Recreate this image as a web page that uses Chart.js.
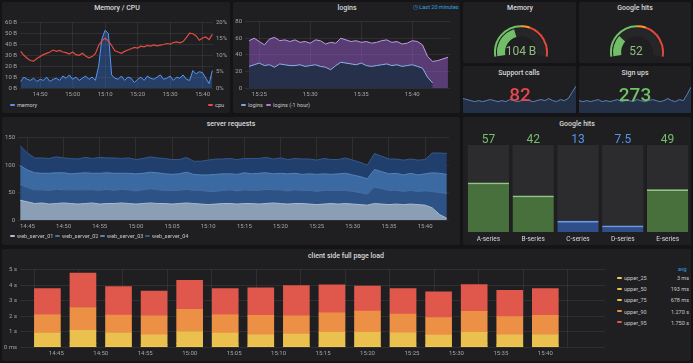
<!DOCTYPE html>
<html><head><meta charset="utf-8">
<script src="https://cdn.jsdelivr.net/npm/chart.js@4.4.1/dist/chart.umd.min.js"></script>
<style>
*{box-sizing:border-box}
html,body{margin:0;padding:0;width:693px;height:363px;overflow:hidden;background:#141416;font-family:Roboto,"Noto Sans",Arial,sans-serif;}
.p{position:absolute;background:#1f1f21;border-radius:2px}
.c{position:absolute}
.t{position:absolute;color:#d8d9da;font-size:7px;font-weight:500;white-space:nowrap;transform:translateX(-50%);line-height:1;z-index:5}
.lg{position:absolute;color:#c7c8ca;font-size:5.5px;white-space:nowrap;line-height:1;z-index:5}
.mk{display:inline-block;width:5px;height:2px;vertical-align:middle;margin-right:2px;border-radius:1px;position:relative;top:-1px}
.big{position:absolute;white-space:nowrap;transform:translateX(-50%);line-height:1;z-index:5}
.row{position:absolute;left:617px;width:72px;height:7px;color:#c7c8ca;font-size:5.5px;line-height:7px;white-space:nowrap;z-index:5}
.row .v{position:absolute;right:0;top:0}
</style></head><body>
<!-- panels -->
<div class="p" style="left:2px;top:2px;width:228px;height:111px"></div>
<div class="p" style="left:233px;top:2px;width:227px;height:111px"></div>
<div class="p" style="left:463px;top:2px;width:113px;height:61px"></div>
<div class="p" style="left:579px;top:2px;width:112px;height:61px"></div>
<div class="p" style="left:463px;top:66px;width:113px;height:47px"></div>
<div class="p" style="left:579px;top:66px;width:112px;height:47px"></div>
<div class="p" style="left:2px;top:117px;width:458px;height:128px"></div>
<div class="p" style="left:463px;top:117px;width:228px;height:128px"></div>
<div class="p" style="left:2px;top:249px;width:689px;height:112px"></div>

<!-- chart containers -->
<div class="c" style="left:2px;top:16px;width:228px;height:86px"><canvas id="c1"></canvas></div>
<div class="c" style="left:233px;top:15px;width:227px;height:87px"><canvas id="c2"></canvas></div>
<div class="c" style="left:494px;top:25px;width:54px;height:32px"><canvas id="g1"></canvas></div>
<div class="c" style="left:610px;top:25px;width:54px;height:32px"><canvas id="g2"></canvas></div>
<div class="c" style="left:463px;top:82px;width:113px;height:31px"><canvas id="s1"></canvas></div>
<div class="c" style="left:579px;top:82px;width:112px;height:31px"><canvas id="s2"></canvas></div>
<div class="c" style="left:2px;top:131px;width:458px;height:103px"><canvas id="c3"></canvas></div>
<div class="c" style="left:463px;top:130px;width:228px;height:114px"><canvas id="c4"></canvas></div>
<div class="c" style="left:2px;top:263px;width:606px;height:98px"><canvas id="c5"></canvas></div>

<!-- titles -->
<div class="t" style="left:117px;top:5px">Memory / CPU</div>
<div class="t" style="left:347px;top:5px">logins</div>
<div class="lg" style="left:413px;top:5px;color:#33a2e5">◷ Last 20 minutes</div>
<div class="t" style="left:520px;top:5px">Memory</div>
<div class="t" style="left:635px;top:5px">Google hits</div>
<div class="t" style="left:519px;top:70px">Support calls</div>
<div class="t" style="left:635px;top:70px">Sign ups</div>
<div class="t" style="left:231px;top:121px">server requests</div>
<div class="t" style="left:577px;top:121px">Google hits</div>
<div class="t" style="left:346px;top:253px">client side full page load</div>

<!-- big values -->
<div class="big" id="gv1" style="left:521px;top:45px;font-size:12px;color:#8fbd80"></div>
<div class="big" id="gv2" style="left:636px;top:45px;font-size:12px;color:#8fbd80"></div>
<div class="big" id="sv1" style="left:520px;top:85px;font-size:19px;font-weight:500;color:#e5474f"></div>
<div class="big" id="sv2" style="left:635px;top:85px;font-size:19px;font-weight:500;color:#73bf69"></div>

<!-- legends -->
<div class="lg" style="left:10px;top:103px"><span class="mk" style="background:#5794F2"></span>memory</div>
<div class="lg" style="left:208px;top:103px"><span class="mk" style="background:#E24D42"></span>cpu</div>
<div class="lg" style="left:241px;top:103px"><span class="mk" style="background:#7ea6e0"></span>logins</div>
<div class="lg" style="left:266px;top:103px"><span class="mk" style="background:#b877d9"></span>logins (-1 hour)</div>
<div id="srvLegend"></div>
<div class="lg" style="left:678px;top:267px;color:#33a2e5">avg</div>
<div id="loadLegend"></div>

<script>
// ---------- DATA ----------
// Memory / CPU (one point per minute from 14:44)
const memStart = '14:44';
const memStepMin = 1;
const memoryB = [6,10,8,7,9,6,8,7,10,6,
  8,9,7,11,9,12,8,10,7,9,
  11,8,10,7,20,45,53,50,12,9,
  8,11,7,10,9,5,8,10,7,11,
  9,8,10,12,8,9,11,7,10,9,
  12,8,7,16,13,15,14,9,4,16];
const cpuPct = [11.2,10.0,9.1,8.4,8.2,9.0,9.6,10.2,10.6,11.0,
  11.6,11.2,11.5,11.0,10.8,10.4,11.0,10.2,10.0,10.6,
  9.8,9.2,9.6,10.5,13.0,14.5,15.2,14.4,13.0,11.4,
  11.0,10.6,11.2,11.6,12.0,12.4,12.2,12.8,12.6,13.0,
  12.8,13.2,12.9,13.1,13.3,13.6,13.4,13.9,14.1,13.8,
  14.2,15.4,16.8,16.6,15.9,14.6,15.3,15.6,14.8,16.4];
const memXTicks = ['14:50','15:00','15:10','15:20','15:30','15:40'];
const memYTicks = ['0 B','10 B','20 B','30 B','40 B','50 B','60 B'];
const cpuYTicks = ['0%','5%','10%','15%','20%'];

// logins (every 30 s from 15:24)
const loginStart = '15:24';
const loginStepMin = 0.5;
const logins = [26,28,30,27,28,25,29,28,27,27,
  28,26,27,28,26,25,22,27,31,30,
  29,28,30,27,26,27,28,29,27,28,
  26,27,28,26,24,13,6,null,null,null];
const loginsHourAgo = [57,60,56,52,59,61,57,58,56,58,
  55,56,54,58,57,53,55,54,60,58,
  56,57,55,56,54,55,57,58,55,56,
  53,54,57,56,52,38,32,33,35,37];
const loginXTicks = ['15:25','15:30','15:35','15:40'];
const loginYTicks = ['0','20','40','60','80'];

// gauges
const gaugeNames = ['Memory','Google hits'];
const gaugeValues = [104, 52];
const gaugeText = ['104 B','52'];
const gaugeMax = [250, 200];
const gaugeThresholds = [50, 10, 40];

// stats with sparklines
const supportCalls = [14,13,12,11,12,11,12,13,12,11,12,11,13,12,11,12,13,12,11,12,13,12,14,12,11,13,12,14,20,26];
const signUps = [12,11,12,11,12,13,11,12,11,12,13,11,12,12,11,13,12,11,12,13,12,11,12,14,12,11,13,12,18,25];
const statText = ['82','273'];

// server requests (one point per minute from 14:44)
const srvStart = '14:44';
const srvStepMin = 1;
const srvNames = ['web_server_01','web_server_02','web_server_03','web_server_04'];
const ws01 = [36,33,30,31,29,30,31,30,29,30,31,29,30,30,31,30,29,30,31,30,
  30,29,30,31,30,29,28,29,30,30,29,30,30,29,30,31,30,29,30,30,
  29,28,29,30,29,30,29,28,27,30,29,28,29,28,29,28,27,22,10,3];
const ws02 = [29,26,25,24,25,26,24,25,26,25,24,25,26,24,25,25,24,25,26,25,
  24,25,24,25,24,25,24,23,24,25,24,25,24,25,26,24,25,24,25,24,
  25,24,25,24,25,24,23,22,20,30,28,26,25,24,25,24,26,30,40,45];
const ws03 = [34,32,31,30,31,30,31,29,30,31,30,31,30,31,29,30,31,30,30,31,
  30,29,30,31,29,28,30,31,30,29,30,31,30,31,30,29,30,31,30,29,
  30,31,30,29,30,31,30,29,28,32,31,30,31,30,31,30,31,34,35,35];
const ws04 = [36,31,27,28,27,29,27,28,26,28,27,29,27,28,27,28,26,27,28,27,
  28,27,26,27,24,25,27,28,27,28,27,26,28,27,28,27,28,26,27,28,
  27,26,28,27,26,28,27,26,25,29,28,27,26,27,26,27,26,36,37,38];
const srvXTicks = ['14:45','14:50','14:55','15:00','15:05','15:10','15:15','15:20','15:25','15:30','15:35','15:40'];
const srvYTicks = ['0','50','100','150'];

// Google hits bar gauge
const hitLabels = ['A-series','B-series','C-series','D-series','E-series'];
const hitValues = [57, 42, 13, 7.5, 49];
const hitValueText = ['57','42','13','7.5','49'];
const hitMax = [100,100,100,100,100];

// client side full page load (ms), bars every 4 minutes
const loadTimes = ['14:44','14:48','14:52','14:56','15:00','15:04','15:08','15:12','15:16','15:20','15:24','15:28','15:32','15:36','15:40'];
const loadNames = ['upper_25','upper_50','upper_75','upper_90','upper_95'];
const upper25 = [3,4,3,3,3,3,2,3,3,4,3,3,3,3,3];
const upper50 = [190,230,195,170,210,195,175,180,200,205,195,165,200,170,175];
const upper75 = [707,836,702,617,787,702,613,647,737,731,722,602,737,617,632];
const upper90 = [1200,1480,1170,1230,1430,1200,1250,1190,1260,1380,1210,1130,1360,1170,1230];
const upper95 = [1680,2230,1830,1600,1870,1670,1790,1940,1820,1620,1640,1660,1740,1700,1730];
const loadAvgText = ['3 ms','193 ms','678 ms','1.270 s','1.750 s'];
const loadXTicks = ['14:45','14:50','14:55','15:00','15:05','15:10','15:15','15:20','15:25','15:30','15:35','15:40'];
const loadYTicks = ['0 ms','1 s','2 s','3 s','4 s','5 s'];

// ---------- HELPERS ----------
const toMin = s => { const [h,m] = s.split(':').map(Number); return h*60+m; };
const fmt = v => { const h = Math.floor(v/60); const m = Math.round(v - h*60); return h + ':' + String(m).padStart(2,'0'); };
const series = (start, step, vals) => vals.map((v,i) => ({x: toMin(start) + i*step, y: v}));
const GRID = 'rgba(255,255,255,0.075)';

Chart.defaults.font.family = 'Roboto, "Noto Sans", sans-serif';
Chart.defaults.font.size = 6;
Chart.defaults.color = '#a3a4a7';
Chart.defaults.animation = false;
Chart.defaults.plugins.legend.display = false;
Chart.defaults.plugins.tooltip.enabled = false;
Chart.defaults.elements.point.radius = 0;
Chart.defaults.elements.line.borderWidth = 1;
Chart.defaults.elements.line.tension = 0;
Chart.defaults.elements.arc.borderWidth = 0;

function timeAxis(min, max, labels, h) {
  return { type:'linear', min, max,
    grid:{color:GRID, drawTicks:false}, border:{display:false},
    ticks:{padding:3, autoSkip:false, maxRotation:0, includeBounds:false, callback:v => fmt(v)},
    afterBuildTicks: s => { s.ticks = labels.map(l => ({value: toMin(l)})); },
    afterFit: s => { s.height = h; } };
}
function valAxis(max, step, labels, w, pos, grid) {
  return { type:'linear', position:pos || 'left', min:0, max,
    grid:{display:grid !== false, color:GRID, drawTicks:false}, border:{display:false},
    ticks:{stepSize:step, padding:3, callback:(v,i) => labels[i]},
    afterFit: s => { s.width = w; } };
}
const base = { responsive:true, maintainAspectRatio:false };

// ---------- Memory / CPU ----------
new Chart(document.getElementById('c1'), {
  type:'line',
  data:{ datasets:[
    {label:'memory', data:series(memStart, memStepMin, memoryB), borderColor:'#5794F2', backgroundColor:'rgba(50,116,217,0.38)', fill:'origin', yAxisID:'y', order:1},
    {label:'cpu', data:series(memStart, memStepMin, cpuPct), borderColor:'#E24D42', borderWidth:1.2, fill:false, yAxisID:'y1', order:0}
  ]},
  options:{ ...base, layout:{padding:{top:6}},
    scales:{ x: timeAxis(883.8, 943.2, memXTicks, 14),
      y: valAxis(60, 10, memYTicks, 18),
      y1: valAxis(20, 5, cpuYTicks, 17, 'right', false) } }
});

// ---------- logins ----------
new Chart(document.getElementById('c2'), {
  type:'line',
  data:{ datasets:[
    {label:'logins', data:series(loginStart, loginStepMin, logins), borderColor:'#8ab2ea', backgroundColor:'#27304b', fill:'origin'},
    {label:'logins (-1 hour)', data:series(loginStart, loginStepMin, loginsHourAgo), borderColor:'#c09be0', backgroundColor:'rgba(150,90,200,0.5)', fill:'origin'}
  ]},
  options:{ ...base, layout:{padding:{top:6, right:10}},
    scales:{ x: timeAxis(923.6, 943.7, loginXTicks, 14),
      y: valAxis(80, 20, loginYTicks, 12) } }
});

// ---------- gauges ----------
['g1','g2'].forEach((id, k) => {
  new Chart(document.getElementById(id), {
    type:'doughnut',
    data:{ datasets:[
      {data:gaugeThresholds, backgroundColor:['#73BF69','#FF9830','#E0473E'], weight:2},
      {data:[1], backgroundColor:'rgba(0,0,0,0)', weight:1},
      {data:[gaugeValues[k], gaugeMax[k]-gaugeValues[k]], backgroundColor:['#73BF69','rgba(255,255,255,0.035)'], weight:8}
    ]},
    options:{ ...base, rotation:-100, circumference:200, cutout:'59%', layout:{padding:0} }
  });
  document.getElementById('gv'+(k+1)).textContent = gaugeText[k];
});

// ---------- sparklines ----------
[['s1', supportCalls], ['s2', signUps]].forEach(([id, vals], k) => {
  new Chart(document.getElementById(id), {
    type:'line',
    data:{ labels: vals.map((_,i)=>i), datasets:[
      {data:vals, borderColor:'#5d82b8', backgroundColor:'rgba(50,100,180,0.25)', fill:'origin', borderWidth:1}
    ]},
    options:{ ...base, layout:{padding:0},
      scales:{ x:{display:false}, y:{display:false, min:0, max:30} } }
  });
  document.getElementById('sv'+(k+1)).textContent = statText[k];
});

// ---------- server requests ----------
const srvVals = [ws01, ws02, ws03, ws04];
const srvFill = ['#8a9fb6','#2d5386','#3b69a1','#213f6d'];
const srvLine = ['#a9bdd2','#4872a8','#5583bb','#34598c'];
new Chart(document.getElementById('c3'), {
  type:'line',
  data:{ datasets: srvVals.map((v,k) => ({
    label:srvNames[k], data:series(srvStart, srvStepMin, v),
    borderColor:srvLine[k], backgroundColor:srvFill[k], fill: k === 0 ? 'origin' : '-1'
  }))},
  options:{ ...base, layout:{padding:{top:6, right:11}},
    scales:{ x: timeAxis(883.7, 943.3, srvXTicks, 14),
      y: {...valAxis(150, 50, srvYTicks, 16), stacked:true} } }
});
const srvLeg = document.getElementById('srvLegend');
srvNames.forEach((n,k) => {
  const d = document.createElement('div');
  d.className = 'lg';
  d.style.left = (10 + k*45) + 'px';
  d.style.top = '234px';
  d.innerHTML = '<span class="mk" style="background:' + srvLine[k] + '"></span>' + n;
  srvLeg.appendChild(d);
});

// ---------- Google hits bar gauge ----------
const hitColor = v => v < 20 ? '#5794F2' : '#73BF69';
const hitFill = v => v < 20 ? '#2f4f8a' : '#47703d';
const hitTop = v => v < 20 ? '#6a9aec' : '#93c884';
new Chart(document.getElementById('c4'), {
  type:'bar',
  data:{ labels:hitLabels, datasets:[
    {data:hitValues, backgroundColor:hitValues.map(hitFill), borderColor:hitValues.map(hitTop),
     borderWidth:{top:2, left:0, right:0, bottom:0}, borderSkipped:false, grouped:false,
     barPercentage:0.92, categoryPercentage:1, order:0},
    {data:hitMax, backgroundColor:'#2c2c2f', borderWidth:0, grouped:false,
     barPercentage:0.92, categoryPercentage:1, order:1}
  ]},
  options:{ ...base, layout:{padding:{left:3, right:1}},
    scales:{
      x:{ grid:{display:false, drawTicks:false}, border:{display:false},
          ticks:{color:'#d8d9da', font:{size:6.5}, padding:3},
          afterFit: s => { s.height = 12; } },
      x2:{ type:'category', labels:hitValueText, position:'top', grid:{display:false, drawTicks:false}, border:{display:false},
          ticks:{color: c => hitColor(hitValues[c.index]), font:{size:12}, padding:-2},
          afterFit: s => { s.height = 15; } },
      y:{ display:false, min:0, max:100 } } }
});

// ---------- client side full page load ----------
const loadVals = [upper25, upper50, upper75, upper90, upper95];
const loadColors = ['#f0cc55','#edc04c','#eac04e','#ec9046','#e0574b'];
new Chart(document.getElementById('c5'), {
  type:'bar',
  data:{ datasets: loadVals.map((v,k) => ({
    label:loadNames[k], data: v.map((y,i) => ({x: toMin(loadTimes[i]), y})),
    backgroundColor:loadColors[k], borderWidth:0, barThickness:26, clip:0
  }))},
  options:{ ...base, layout:{padding:{top:6, right:3}},
    scales:{ x: {...timeAxis(883.66, 943.97, loadXTicks, 14), stacked:true},
      y: {...valAxis(5000, 1000, loadYTicks, 18), stacked:true} } }
});
const loadLeg = document.getElementById('loadLegend');
loadNames.forEach((n,k) => {
  const d = document.createElement('div');
  d.className = 'row';
  d.style.top = (275 + k*11.2) + 'px';
  d.innerHTML = '<span class="mk" style="background:' + loadColors[k] + '"></span>' + n + '<span class="v">' + loadAvgText[k] + '</span>';
  loadLeg.appendChild(d);
});
</script>
</body></html>
